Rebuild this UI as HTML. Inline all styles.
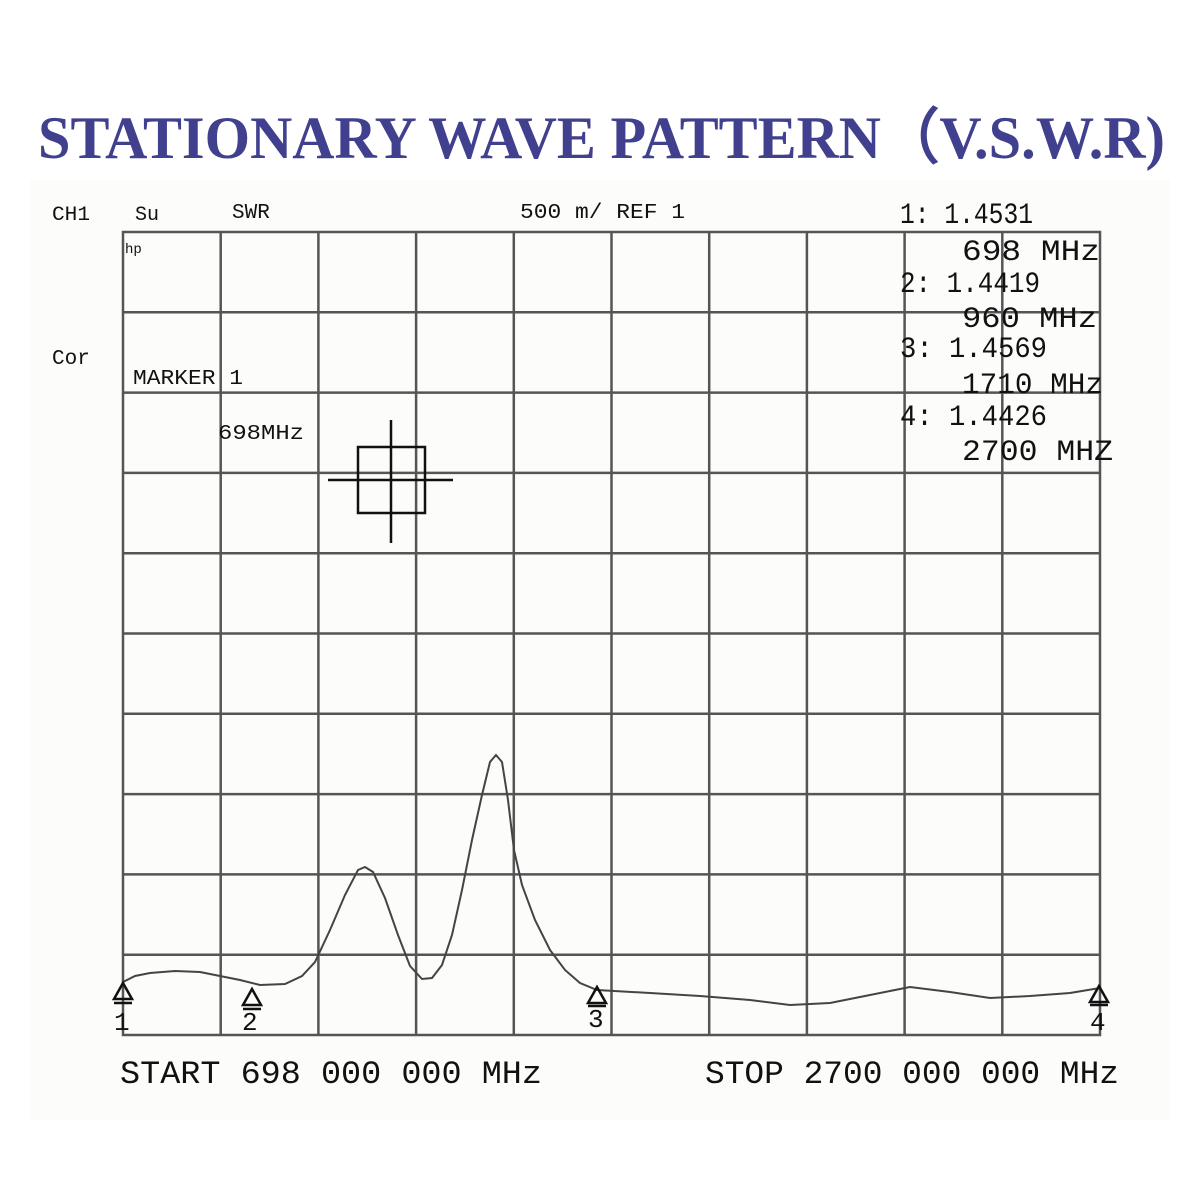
<!DOCTYPE html>
<html><head><meta charset="utf-8"><style>html,body{margin:0;padding:0;background:#fff}svg{display:block}</style></head>
<body>
<svg width="1200" height="1200" viewBox="0 0 1200 1200" xmlns="http://www.w3.org/2000/svg">
<rect width="1200" height="1200" fill="#fff"/>
<rect x="30" y="180" width="1140" height="940" fill="#fcfcfb"/>
<text x="38" y="158" font-family="Liberation Serif, serif" font-weight="bold" font-size="60" fill="#40408f" textLength="1127" lengthAdjust="spacingAndGlyphs">STATIONARY WAVE PATTERN（V.S.W.R)</text>
<g stroke="#555" stroke-width="2.5" fill="none">
<rect x="123" y="232" width="977" height="803"/>
<path d="M220.7 232V1035M318.4 232V1035M416.1 232V1035M513.8 232V1035M611.5 232V1035M709.2 232V1035M806.9 232V1035M904.6 232V1035M1002.3 232V1035"/>
<path d="M123 312.3H1100M123 392.6H1100M123 472.9H1100M123 553.2H1100M123 633.5H1100M123 713.8H1100M123 794.1H1100M123 874.4H1100M123 954.7H1100"/>
</g>
<g font-family="Liberation Mono, monospace" fill="#111">
<text x="52" y="220" font-size="20" textLength="38" lengthAdjust="spacingAndGlyphs">CH1</text>
<text x="135" y="220" font-size="20">Su</text>
<text x="232" y="218" font-size="21">SWR</text>
<text x="520" y="218" font-size="21" textLength="165" lengthAdjust="spacingAndGlyphs">500 m/ REF 1</text>
<text x="125" y="253" font-size="14">hp</text>
<text x="52" y="364" font-size="21">Cor</text>
<text x="133" y="384" font-size="21" textLength="110" lengthAdjust="spacingAndGlyphs">MARKER 1</text>
<text x="218" y="439" font-size="21" textLength="86" lengthAdjust="spacingAndGlyphs">698MHz</text>
<g font-size="30">
<text x="900" y="223" textLength="133" lengthAdjust="spacingAndGlyphs">1: 1.4531</text>
<text x="962" y="260" textLength="138" lengthAdjust="spacingAndGlyphs">698 MHz</text>
<text x="900" y="292" textLength="140" lengthAdjust="spacingAndGlyphs">2: 1.4419</text>
<text x="962" y="327" textLength="135" lengthAdjust="spacingAndGlyphs">960 MHz</text>
<text x="900" y="357" textLength="147" lengthAdjust="spacingAndGlyphs">3: 1.4569</text>
<text x="962" y="393" textLength="141" lengthAdjust="spacingAndGlyphs">1710 MHz</text>
<text x="900" y="425" textLength="147" lengthAdjust="spacingAndGlyphs">4: 1.4426</text>
<text x="962" y="460" textLength="151" lengthAdjust="spacingAndGlyphs">2700 MHZ</text>
</g>
<text x="120" y="1083" font-size="32" textLength="422" lengthAdjust="spacingAndGlyphs">START  698 000 000 MHz</text>
<text x="705" y="1083" font-size="32" textLength="414" lengthAdjust="spacingAndGlyphs">STOP  2700 000 000 MHz</text>
</g>
<g stroke="#111" stroke-width="2.5" fill="none">
<rect x="358" y="447" width="67" height="66"/>
<path d="M328 480H453M391 420V543"/>
</g>
<polyline fill="none" stroke="#444" stroke-width="2" points="123,982 135,976 150,973 175,971 200,972 220,976 240,980 260,985 285,984 302,976 315,962 330,930 345,895 358,870 365,867 373,872 385,898 398,935 410,966 422,979 432,978 442,965 452,935 462,890 472,840 482,795 490,762 496,755 502,762 508,800 514,850 522,885 535,920 550,950 565,970 580,983 597,990 650,993 700,996 750,1000 790,1005 830,1003 870,995 910,987 950,992 990,998 1030,996 1070,993 1100,988"/>
<g stroke="#111" stroke-width="2.5" fill="none">
<path d="M123 983L114 999H132Z M114 1003H132"/>
<path d="M252 989L243 1005H261Z M243 1009H261"/>
<path d="M597 987L588 1003H606Z M588 1006H606"/>
<path d="M1099 986L1090 1002H1108Z M1090 1005H1108"/>
</g>
<g font-family="Liberation Mono, monospace" font-size="26" fill="#111">
<text x="114" y="1030">1</text>
<text x="242" y="1030">2</text>
<text x="588" y="1027">3</text>
<text x="1090" y="1030">4</text>
</g>
</svg>
</body></html>
